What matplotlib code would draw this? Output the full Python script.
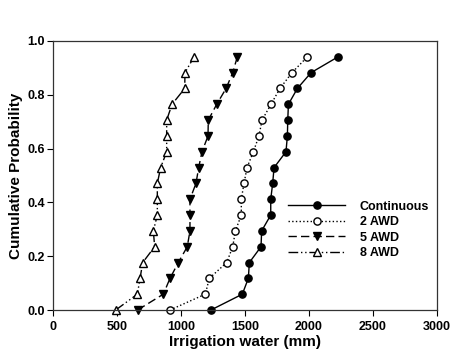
import matplotlib
matplotlib.use("Agg")
import matplotlib.pyplot as plt

plt.rcParams['font.family'] = ['Liberation Sans', 'DejaVu Sans']

prob = [i / 17 for i in range(17)]

continuous = [1234, 1479, 1526, 1534, 1625, 1630, 1701, 1701, 1716, 1727,
              1820, 1831, 1834, 1839, 1909, 2016, 2227]
awd2 = [914, 1190, 1221, 1357, 1404, 1425, 1471, 1471, 1492, 1516,
        1565, 1609, 1633, 1703, 1773, 1867, 1987]
awd5 = [661, 862, 914, 979, 1049, 1070, 1070, 1070, 1117, 1138,
        1164, 1211, 1213, 1279, 1352, 1404, 1440]
awd8 = [490, 659, 680, 701, 794, 784, 815, 815, 815, 841,
        888, 888, 888, 930, 1029, 1031, 1102]

labels = ['Continuous', '2 AWD', '5 AWD', '8 AWD']
xticks = [0, 500, 1000, 1500, 2000, 2500, 3000]
yticks = [0.0, 0.2, 0.4, 0.6, 0.8, 1.0]

fig = plt.figure(figsize=(4.74, 3.51), dpi=100)
ax = fig.add_axes([0.1118, 0.1168, 0.8102, 0.7664])

ms = 5.2
ax.plot(continuous, prob, '-', color='black', lw=1.0, marker='o', ms=ms,
        mfc='black', mec='black', label=labels[0], clip_on=False)
ax.plot(awd2, prob, ':', color='black', lw=1.0, marker='o', ms=ms,
        mfc='white', mec='black', label=labels[1], clip_on=False)
ax.plot(awd5, prob, color='black', lw=1.0, ls=(0, (6, 3)), marker='v', ms=ms,
        mfc='black', mec='black', label=labels[2], clip_on=False)
ax.plot(awd8, prob, color='black', lw=1.0, ls=(0, (7, 2, 1, 2, 1, 2)), marker='^', ms=ms,
        mfc='white', mec='black', label=labels[3], clip_on=False)

ax.set_xlim(0, 3000)
ax.set_ylim(0, 1.0)
ax.set_xticks(xticks)
ax.set_xticklabels([str(t) for t in xticks], fontweight='bold', fontsize=9)
ax.set_yticks(yticks)
ax.set_yticklabels([f'{t:.1f}' for t in yticks], fontweight='bold', fontsize=9)
ax.tick_params(axis='x', direction='out', length=4, width=0.8, pad=4, colors='black')
ax.tick_params(axis='y', direction='out', length=4, width=0.8, pad=2, colors='black')
for sp in ax.spines.values():
    sp.set_linewidth(0.9)
    sp.set_color('#333333')

ax.set_xlabel('Irrigation water (mm)', fontweight='bold', fontsize=11, labelpad=1)
ax.set_ylabel('Cumulative Probability', fontweight='bold', fontsize=11, labelpad=3)

leg = ax.legend(loc='upper left', bbox_to_anchor=(0.6, 0.425), frameon=False,
                prop={'weight': 'bold', 'size': 9}, handlelength=4.5,
                handletextpad=1.2, labelspacing=0.28, borderaxespad=0)

fig.savefig('out.png', dpi=100)
